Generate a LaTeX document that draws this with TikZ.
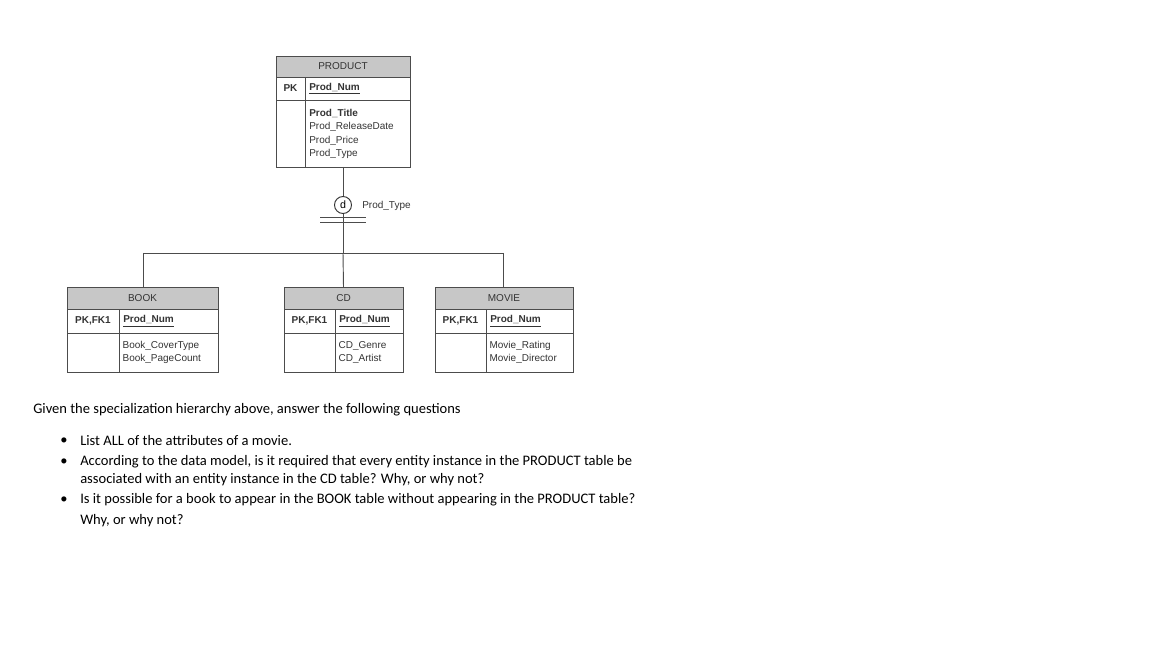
\documentclass[tikz,border=0pt]{standalone}
\usepackage{fontspec}
\setmainfont{Carlito}
\newfontfamily\tabfont{Liberation Sans}
\begin{document}
\begin{tikzpicture}[x=0.75pt,y=-0.75pt,
  cell/.style={draw=black!70,line width=0.5pt,inner sep=0pt,outer sep=0pt,anchor=north west,font=\tabfont\fontsize{7.5}{8}\selectfont,text=black!80},
  hdr/.style={cell,fill=black!22},
  ln/.style={draw=black!70,line width=0.7pt},
  qt/.style={anchor=west,font=\fontsize{10.9}{12}\selectfont,inner sep=0pt}]
\useasboundingbox (0,0) rectangle (1152,648);
% PRODUCT
\node[hdr,minimum width=134*0.75pt,minimum height=21*0.75pt] (ph) at (276,56) {PRODUCT};
\node[cell,minimum width=29*0.75pt,minimum height=23*0.75pt] (pk) at (276,77) {\textbf{PK}};
\node[cell,minimum width=105*0.75pt,minimum height=23*0.75pt] (pn) at (305,77) {};
\node[anchor=west,inner sep=0pt,font=\tabfont\fontsize{7.5}{8}\selectfont,text=black!80] at ([xshift=3pt]pn.west) {\textbf{\underline{Prod\_Num}}};
\node[cell,minimum width=29*0.75pt,minimum height=67*0.75pt] (pe) at (276,100) {};
\node[cell,minimum width=105*0.75pt,minimum height=67*0.75pt] (pa) at (305,100) {};
\node[anchor=north west,inner sep=0pt,font=\tabfont\fontsize{7.5}{10}\selectfont,text=black!80,align=left] at (309,109) {\textbf{Prod\_Title}\\Prod\_ReleaseDate\\Prod\_Price\\Prod\_Type};
% d symbol
\node[circle,draw=black!80,line width=0.7pt,minimum size=17*0.75pt,inner sep=0pt,font=\tabfont\fontsize{8}{8}\selectfont] (d) at (343,205) {d};
\node[anchor=west,inner sep=0pt,font=\tabfont\fontsize{7.5}{8}\selectfont,text=black!80] (dl) at (362,206) {Prod\_Type};
\coordinate (pt) at (343,167);
\coordinate (j) at (343,253);
\coordinate (jl) at (143,253);
\coordinate (jr) at (503,253);
\draw[ln] (pt) -- (d.north);
\draw[ln] (d.south) -- (j);
\draw[ln] (320,217) -- (366,217);
\draw[ln] (320,222) -- (366,222);
% subtypes
\foreach \n/\x/\dv/\w/\t/\a/\b in {book/67/119/218/BOOK/Book\_CoverType/Book\_PageCount,
  cd/284/335/403/CD/CD\_Genre/CD\_Artist,
  movie/435/486/573/MOVIE/Movie\_Rating/Movie\_Director}{
  \pgfmathsetmacro\wa{(\w-\x)*0.75}
  \pgfmathsetmacro\wb{(\dv-\x)*0.75}
  \pgfmathsetmacro\wc{(\w-\dv)*0.75}
  \node[hdr,minimum width=\wa pt,minimum height=22*0.75pt] (\n h) at (\x,287) {\t};
  \node[cell,minimum width=\wb pt,minimum height=24*0.75pt] (\n k) at (\x,309) {\textbf{PK,FK1}};
  \node[cell,minimum width=\wc pt,minimum height=24*0.75pt] (\n n) at (\dv,309) {};
  \node[anchor=west,inner sep=0pt,font=\tabfont\fontsize{7.5}{8}\selectfont,text=black!80] at ([xshift=3pt]\n n.west) {\textbf{\underline{Prod\_Num}}};
  \node[cell,minimum width=\wb pt,minimum height=39*0.75pt] (\n e) at (\x,333) {};
  \node[cell,minimum width=\wc pt,minimum height=39*0.75pt] (\n a) at (\dv,333) {};
  \node[anchor=west,inner sep=0pt,font=\tabfont\fontsize{7.5}{10}\selectfont,text=black!80,align=left] at ([xshift=2.5pt]\n a.west) {\a\\\b};
}
\draw[ln] (jl) -- (jr);
\draw[ln] (jl) -- (jl |- bookh.north);
\draw[ln] (jr) -- (jr |- movieh.north);
\draw[ln] (j) -- (cdh.north);
% text
\node[qt] (q0) at (33,410) {Given the specialization hierarchy above, answer the following questions};
\foreach \y/\t in {441/{List ALL of the attributes of a movie.},
  462/{According to the data model, is it required that every entity instance in the PRODUCT table be},
  500/{Is it possible for a book to appear in the BOOK table without appearing in the PRODUCT table?}}{
  \node[qt] at (60,\y) {\textbullet};
  \node[qt] at (80,\y) {\t};}
\node[qt] at (80,480) {associated with an entity instance in the CD table? Why, or why not?};
\node[qt] at (80,521) {Why, or why not?};
\end{tikzpicture}
\end{document}
